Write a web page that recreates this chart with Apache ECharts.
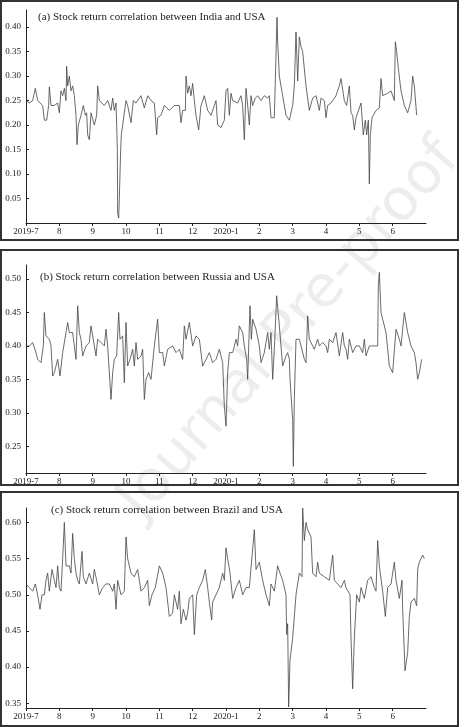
<!DOCTYPE html>
<html>
<head>
<meta charset="utf-8">
<script src="https://cdn.jsdelivr.net/npm/echarts@6/dist/echarts.min.js"></script>
<style>html,body{margin:0;padding:0;background:#fff}#main{width:474px;height:727px}</style>
</head>
<body>
<div id="main"></div>
<script>
// month labels, position = months since 2019-7
var monthLabels = ['2019-7', '8', '9', '10', '11', '12', '2020-1', '2', '3', '4', '5', '6'];

// y tick labels per panel
var ticksA = [0.05, 0.10, 0.15, 0.20, 0.25, 0.30, 0.35, 0.40];
var ticksB = [0.25, 0.30, 0.35, 0.40, 0.45, 0.50];
var ticksC = [0.35, 0.40, 0.45, 0.50, 0.55, 0.60];

// [month index, correlation]
var india = [[0,.25],[0.1,.245],[0.2,.25],[0.28,.275],[0.35,.25],[0.5,.24],[0.55,.21],[0.62,.21],[0.68,.24],[0.7,.278],[0.75,.24],[0.85,.24],[0.95,.245],[1.0,.225],[1.05,.27],[1.1,.26],[1.15,.275],[1.2,.25],[1.22,.32],[1.25,.28],[1.3,.30],[1.35,.27],[1.4,.28],[1.45,.26],[1.5,.22],[1.53,.16],[1.57,.20],[1.65,.22],[1.72,.24],[1.78,.22],[1.82,.225],[1.85,.18],[1.9,.17],[1.95,.225],[2.05,.2],[2.12,.22],[2.15,.28],[2.2,.25],[2.35,.24],[2.45,.25],[2.55,.23],[2.6,.255],[2.65,.23],[2.7,.245],[2.72,.20],[2.74,.15],[2.75,.02],[2.78,.01],[2.8,.05],[2.84,.15],[2.86,.18],[2.9,.20],[3.0,.25],[3.05,.24],[3.15,.205],[3.22,.25],[3.3,.245],[3.45,.26],[3.55,.235],[3.65,.26],[3.75,.25],[3.85,.245],[3.92,.18],[3.95,.215],[4.05,.22],[4.15,.24],[4.3,.23],[4.45,.24],[4.6,.24],[4.65,.205],[4.7,.23],[4.78,.23],[4.8,.3],[4.85,.265],[4.9,.28],[4.95,.26],[5.0,.285],[5.05,.25],[5.1,.22],[5.18,.19],[5.25,.24],[5.35,.26],[5.45,.23],[5.55,.22],[5.65,.24],[5.7,.25],[5.75,.20],[5.85,.195],[5.95,.21],[6.0,.27],[6.05,.275],[6.1,.22],[6.15,.265],[6.2,.25],[6.35,.245],[6.45,.26],[6.5,.24],[6.55,.17],[6.6,.275],[6.65,.24],[6.7,.20],[6.75,.26],[6.8,.24],[6.88,.255],[6.95,.26],[7.05,.25],[7.15,.26],[7.25,.255],[7.3,.26],[7.35,.215],[7.45,.215],[7.5,.215],[7.53,.42],[7.55,.37],[7.6,.3],[7.7,.26],[7.8,.22],[7.9,.21],[8.0,.24],[8.05,.28],[8.1,.39],[8.15,.29],[8.2,.38],[8.25,.36],[8.3,.35],[8.4,.28],[8.5,.23],[8.6,.255],[8.7,.26],[8.8,.23],[8.85,.255],[8.95,.25],[9.0,.215],[9.05,.24],[9.15,.245],[9.3,.26],[9.4,.28],[9.45,.295],[9.55,.25],[9.62,.24],[9.7,.28],[9.75,.225],[9.8,.22],[9.85,.19],[9.9,.215],[10.05,.245],[10.12,.18],[10.18,.21],[10.22,.18],[10.27,.21],[10.3,.08],[10.33,.18],[10.38,.215],[10.5,.23],[10.55,.23],[10.6,.235],[10.65,.295],[10.7,.26],[10.85,.265],[10.95,.27],[11.05,.25],[11.08,.37],[11.12,.35],[11.18,.31],[11.25,.27],[11.35,.24],[11.45,.225],[11.55,.25],[11.6,.30],[11.65,.28],[11.72,.22]];

var russia = [[0,.40],[0.1,.40],[0.2,.405],[0.3,.39],[0.35,.38],[0.45,.375],[0.52,.40],[0.55,.45],[0.6,.415],[0.7,.41],[0.75,.40],[0.8,.355],[0.85,.36],[0.95,.38],[1.0,.38],[1.02,.355],[1.1,.39],[1.2,.42],[1.25,.435],[1.3,.42],[1.4,.42],[1.45,.42],[1.5,.38],[1.55,.46],[1.6,.42],[1.65,.41],[1.7,.385],[1.8,.40],[1.9,.405],[1.95,.43],[2.05,.40],[2.1,.385],[2.15,.41],[2.25,.405],[2.35,.40],[2.4,.425],[2.45,.40],[2.5,.40],[2.55,.32],[2.6,.36],[2.65,.38],[2.72,.385],[2.78,.45],[2.82,.41],[2.9,.415],[2.95,.345],[3.0,.435],[3.05,.37],[3.12,.38],[3.2,.395],[3.25,.37],[3.3,.405],[3.35,.38],[3.45,.385],[3.5,.395],[3.55,.32],[3.6,.35],[3.68,.36],[3.75,.35],[3.85,.40],[3.95,.44],[4.0,.39],[4.1,.39],[4.15,.37],[4.25,.395],[4.4,.40],[4.5,.39],[4.6,.395],[4.7,.38],[4.75,.43],[4.8,.41],[4.9,.435],[5.0,.40],[5.1,.415],[5.2,.41],[5.3,.37],[5.4,.38],[5.5,.39],[5.6,.375],[5.7,.38],[5.8,.395],[5.9,.375],[5.95,.31],[6.0,.28],[6.05,.36],[6.1,.39],[6.2,.39],[6.3,.41],[6.35,.40],[6.4,.43],[6.5,.42],[6.55,.40],[6.62,.38],[6.65,.35],[6.72,.46],[6.76,.41],[6.8,.44],[6.9,.425],[7.0,.40],[7.05,.375],[7.15,.39],[7.25,.42],[7.3,.395],[7.35,.42],[7.4,.35],[7.45,.395],[7.52,.475],[7.6,.43],[7.65,.40],[7.7,.37],[7.8,.385],[7.85,.39],[7.9,.38],[7.92,.35],[8.0,.29],[8.02,.22],[8.05,.32],[8.1,.41],[8.2,.41],[8.25,.40],[8.35,.38],[8.4,.375],[8.45,.445],[8.5,.41],[8.6,.40],[8.65,.395],[8.75,.41],[8.8,.40],[8.9,.405],[9.0,.40],[9.05,.39],[9.1,.41],[9.2,.405],[9.3,.42],[9.4,.385],[9.5,.42],[9.55,.40],[9.6,.395],[9.65,.38],[9.7,.41],[9.8,.39],[9.9,.40],[10.0,.40],[10.1,.39],[10.15,.41],[10.2,.385],[10.3,.40],[10.4,.40],[10.55,.40],[10.57,.49],[10.6,.51],[10.65,.45],[10.7,.44],[10.8,.42],[10.9,.37],[11.0,.36],[11.1,.425],[11.2,.41],[11.25,.40],[11.35,.45],[11.45,.42],[11.55,.40],[11.65,.39],[11.7,.375],[11.75,.35],[11.8,.36],[11.87,.38]];

var brazil = [[0,.515],[0.1,.51],[0.2,.505],[0.28,.515],[0.35,.50],[0.42,.48],[0.48,.50],[0.55,.50],[0.6,.52],[0.65,.53],[0.7,.505],[0.78,.535],[0.85,.52],[0.9,.51],[0.95,.54],[1.0,.51],[1.05,.505],[1.1,.55],[1.15,.60],[1.2,.54],[1.3,.54],[1.35,.53],[1.4,.585],[1.45,.55],[1.5,.53],[1.55,.52],[1.6,.515],[1.68,.56],[1.72,.525],[1.8,.515],[1.9,.53],[2.0,.515],[2.05,.535],[2.12,.52],[2.2,.50],[2.3,.51],[2.4,.515],[2.5,.515],[2.6,.505],[2.65,.515],[2.7,.48],[2.75,.52],[2.85,.50],[2.95,.505],[3.0,.58],[3.05,.55],[3.15,.53],[3.25,.525],[3.35,.535],[3.45,.505],[3.55,.51],[3.65,.52],[3.7,.485],[3.78,.50],[3.88,.51],[4.0,.54],[4.1,.53],[4.2,.51],[4.3,.47],[4.4,.475],[4.45,.50],[4.55,.48],[4.6,.505],[4.65,.46],[4.72,.48],[4.8,.465],[4.85,.475],[4.9,.495],[5.0,.50],[5.05,.445],[5.12,.50],[5.2,.51],[5.3,.52],[5.38,.535],[5.45,.51],[5.5,.49],[5.57,.465],[5.6,.49],[5.7,.50],[5.8,.51],[5.9,.53],[5.95,.52],[6.0,.565],[6.05,.55],[6.12,.53],[6.2,.495],[6.3,.51],[6.4,.52],[6.5,.50],[6.6,.51],[6.7,.51],[6.85,.59],[6.9,.535],[7.0,.545],[7.1,.52],[7.2,.50],[7.3,.485],[7.35,.515],[7.45,.505],[7.55,.54],[7.62,.53],[7.7,.52],[7.8,.50],[7.82,.445],[7.85,.46],[7.88,.345],[7.92,.41],[8.0,.44],[8.1,.50],[8.2,.53],[8.28,.525],[8.3,.62],[8.35,.575],[8.4,.60],[8.45,.59],[8.55,.58],[8.6,.53],[8.7,.525],[8.75,.545],[8.8,.53],[8.95,.525],[9.0,.525],[9.1,.52],[9.2,.555],[9.25,.52],[9.35,.515],[9.45,.51],[9.55,.52],[9.6,.51],[9.72,.50],[9.75,.44],[9.8,.37],[9.85,.44],[9.92,.50],[10.0,.49],[10.05,.51],[10.15,.495],[10.25,.52],[10.35,.525],[10.45,.51],[10.5,.505],[10.55,.575],[10.6,.54],[10.7,.505],[10.78,.47],[10.85,.51],[10.95,.515],[11.0,.515],[11.05,.545],[11.1,.52],[11.2,.495],[11.28,.52],[11.3,.48],[11.37,.395],[11.45,.42],[11.5,.47],[11.55,.49],[11.65,.495],[11.72,.485],[11.75,.535],[11.8,.545],[11.9,.555],[11.95,.55]];

var titles = ['(a) Stock return correlation between India and USA',
	'(b) Stock return correlation between Russia and USA',
	'(c) Stock return correlation between Brazil and USA'];

var font = '"Liberation Serif", serif';

// 每个面板的网格
var grids = [
	{ left: 26, width: 400, top: 10, height: 213 },
	{ left: 26, width: 400, top: 265, height: 208 },
	{ left: 26, width: 400, top: 508, height: 200 }
];
var yRanges = [[0, 0.435], [0.21, 0.521], [0.3435, 0.62]];
var yTicks = [ticksA, ticksB, ticksC];
var seriesData = [india, russia, brazil];

var xAxes = [], yAxes = [], series = [];
for (var i = 0; i < 3; i++) {
	xAxes.push({
		gridIndex: i, type: 'value', min: 0, max: 12, interval: 1,
		axisLine: { lineStyle: { color: '#222', width: 1 } },
		axisTick: { length: 3, lineStyle: { color: '#222' } },
		splitLine: { show: false },
		axisLabel: {
			fontFamily: font, fontSize: 9, color: '#222', margin: 4,
			showMaxLabel: false,
			formatter: function (v) { return monthLabels[v] || ''; }
		}
	});
	yAxes.push({
		gridIndex: i, type: 'value', min: yRanges[i][0], max: yRanges[i][1],
		axisLine: { show: true, lineStyle: { color: '#222', width: 1 } },
		axisTick: { show: true, length: 3, inside: true, customValues: yTicks[i], lineStyle: { color: '#222' } },
		splitLine: { show: false },
		axisLabel: {
			fontFamily: font, fontSize: 9, color: '#222', margin: 5,
			customValues: yTicks[i],
			formatter: function (v) { return v.toFixed(2); }
		}
	});
	series.push({
		type: 'line', xAxisIndex: i, yAxisIndex: i, data: seriesData[i],
		showSymbol: false, lineStyle: { color: '#444', width: 0.8 }
	});
}

var frames = [[1, 1, 457, 239], [1, 250, 457, 235], [1, 492, 457, 234]];
var graphics = [];
for (var k = 0; k < 3; k++) {
	graphics.push({
		type: 'rect', shape: { x: frames[k][0], y: frames[k][1], width: frames[k][2], height: frames[k][3] },
		style: { fill: null, stroke: '#333', lineWidth: 2 }, z: 10
	});
}
graphics.push({ type: 'text', left: 38, top: 12, style: { text: titles[0], font: '11px ' + font, fill: '#222' }, z: 11 });
graphics.push({ type: 'text', left: 40, top: 272, style: { text: titles[1], font: '11px ' + font, fill: '#222' }, z: 11 });
graphics.push({ type: 'text', left: 51, top: 505, style: { text: titles[2], font: '11px ' + font, fill: '#222' }, z: 11 });
graphics.push({
	type: 'text', x: 290, y: 330, rotation: Math.PI * 0.27, z: 0,
	style: { text: 'Journal Pre-proof', font: '58px "DejaVu Sans", sans-serif', fill: 'rgba(0,0,0,0.07)', align: 'center', verticalAlign: 'middle' }
});

var option = {
	animation: false,
	grid: grids,
	xAxis: xAxes,
	yAxis: yAxes,
	series: series,
	graphic: graphics
};

var myChart = echarts.init(document.getElementById('main'));
myChart.setOption(option);
</script>
</body>
</html>
